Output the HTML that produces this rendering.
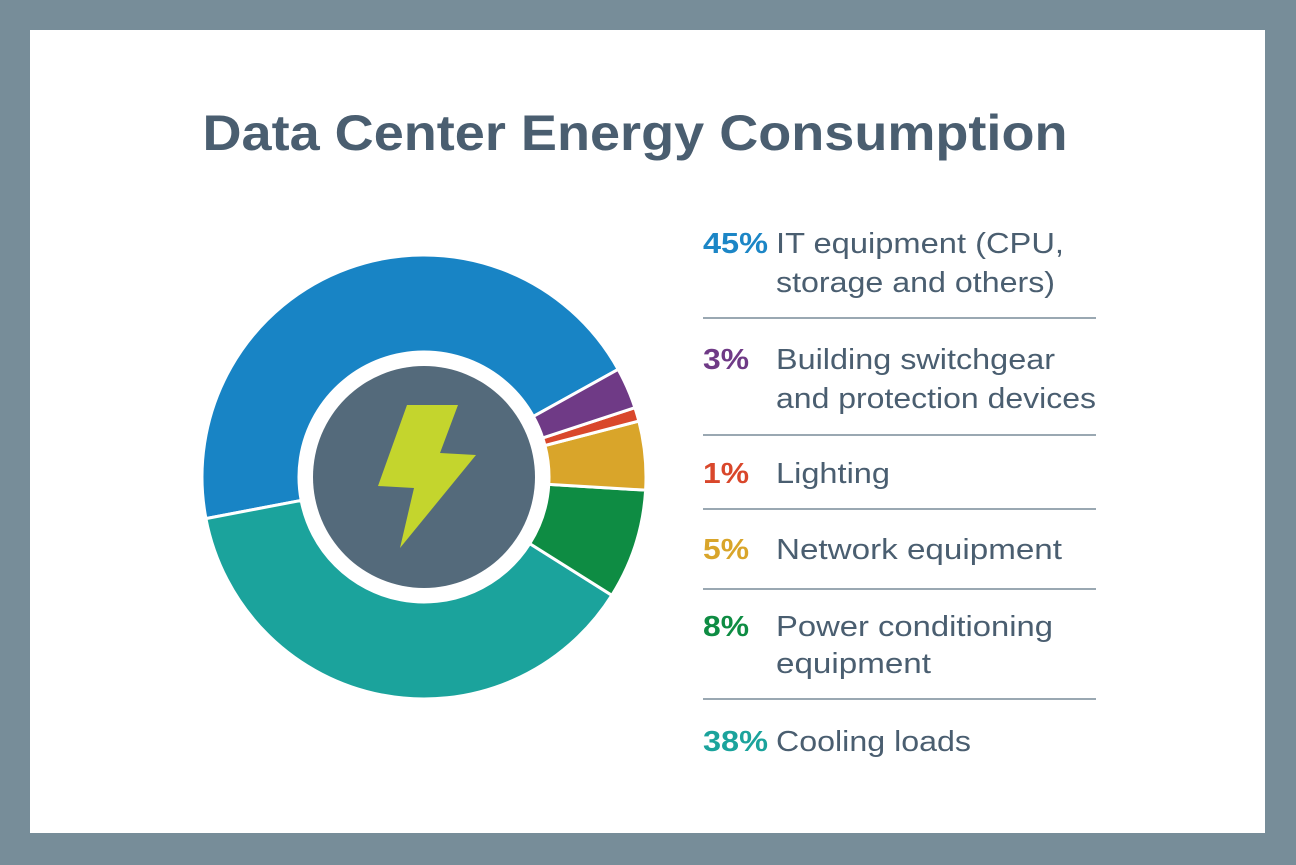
<!DOCTYPE html>
<html><head><meta charset="utf-8"><style>
html,body{margin:0;padding:0;background:#778d99;}
svg{display:block}
</style></head><body>
<svg id="s" width="1296" height="865" xmlns="http://www.w3.org/2000/svg">
<rect x="0" y="0" width="1296" height="865" fill="#778d99"/>
<rect x="30" y="30" width="1235" height="803" fill="#ffffff"/>
<text x="635" y="150" text-anchor="middle" font-family="Liberation Sans, sans-serif" font-weight="bold" font-size="50" fill="#4a5e70" textLength="865" lengthAdjust="spacingAndGlyphs">Data Center Energy Consumption</text>
<g id="pie"></g>
<circle cx="424" cy="477" r="111" fill="#546a7b"/>
<polygon points="407,405 458,405 440,453 476,455 400,548 414,488 378,486" fill="#c4d52d"/>
<g font-family="Liberation Sans, sans-serif" font-size="29" fill="#4a5e70">
<text x="703" y="253" font-weight="bold" fill="#1c86c6" textLength="65" lengthAdjust="spacingAndGlyphs">45%</text>
<text x="776" y="253" textLength="288" lengthAdjust="spacingAndGlyphs">IT equipment (CPU,</text>
<text x="776" y="292" textLength="279" lengthAdjust="spacingAndGlyphs">storage and others)</text>
<rect x="703" y="317" width="393" height="2" fill="#9aa8b2"/>
<text x="703" y="369" font-weight="bold" fill="#6f3a86" textLength="46" lengthAdjust="spacingAndGlyphs">3%</text>
<text x="776" y="369" textLength="279" lengthAdjust="spacingAndGlyphs">Building switchgear</text>
<text x="776" y="408" textLength="320" lengthAdjust="spacingAndGlyphs">and protection devices</text>
<rect x="703" y="434" width="393" height="2" fill="#9aa8b2"/>
<text x="703" y="483" font-weight="bold" fill="#d9472b" textLength="46" lengthAdjust="spacingAndGlyphs">1%</text>
<text x="776" y="483" textLength="114" lengthAdjust="spacingAndGlyphs">Lighting</text>
<rect x="703" y="508" width="393" height="2" fill="#9aa8b2"/>
<text x="703" y="559" font-weight="bold" fill="#d9a52a" textLength="46" lengthAdjust="spacingAndGlyphs">5%</text>
<text x="776" y="559" textLength="286" lengthAdjust="spacingAndGlyphs">Network equipment</text>
<rect x="703" y="588" width="393" height="2" fill="#9aa8b2"/>
<text x="703" y="636" font-weight="bold" fill="#0e8c43" textLength="46" lengthAdjust="spacingAndGlyphs">8%</text>
<text x="776" y="636" textLength="277" lengthAdjust="spacingAndGlyphs">Power conditioning</text>
<text x="776" y="673" textLength="155" lengthAdjust="spacingAndGlyphs">equipment</text>
<rect x="703" y="698" width="393" height="2" fill="#9aa8b2"/>
<text x="703" y="751" font-weight="bold" fill="#1ba39c" textLength="65" lengthAdjust="spacingAndGlyphs">38%</text>
<text x="776" y="751" textLength="195" lengthAdjust="spacingAndGlyphs">Cooling loads</text>
</g>
</svg>
<script>
(function(){
var cx=424,cy=477,R=222,r=125;
var sl=[[29,190.8,"#1884c5"],[190.8,327.8,"#1ba39c"],[327.8,356.6,"#0e8c43"],[356.6,374.6,"#d9a52a"],[374.6,378.2,"#d9472b"],[378.2,389,"#6f3a86"]];
function p(a,rr){var t=a*Math.PI/180;return (cx+rr*Math.cos(t)).toFixed(2)+","+(cy-rr*Math.sin(t)).toFixed(2);}
var g=document.getElementById("pie"),h="";
sl.forEach(function(s){var a0=s[0],a1=s[1],lg=(a1-a0)>180?1:0;
h+='<path d="M'+p(a0,r)+' L'+p(a0,R)+' A'+R+','+R+' 0 '+lg+',0 '+p(a1,R)+' L'+p(a1,r)+' A'+r+','+r+' 0 '+lg+',1 '+p(a0,r)+' Z" fill="'+s[2]+'" stroke="#fff" stroke-width="3"/>';});
g.innerHTML=h;
})();
</script>
</body></html>
